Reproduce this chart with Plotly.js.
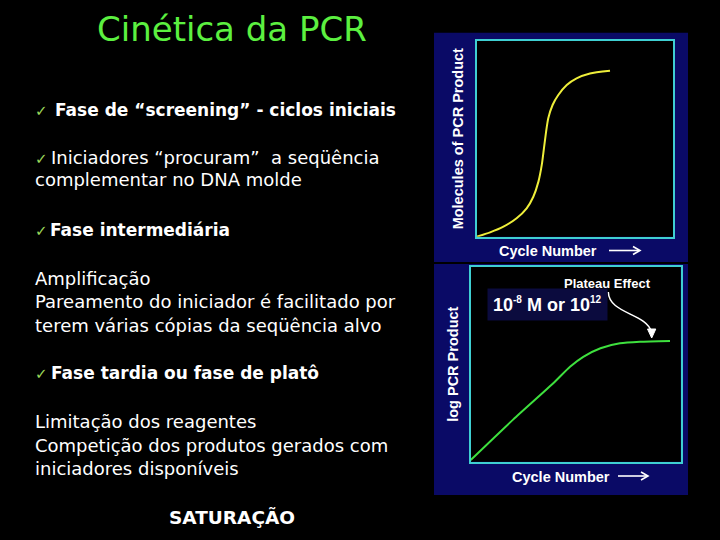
<!DOCTYPE html>
<html>
<head>
<meta charset="utf-8">
<script src="https://cdn.plot.ly/plotly-3.0.1.min.js"></script>
<style>
  html, body { margin: 0; padding: 0; background: #000; }
  #chart { width: 720px; height: 540px; }
</style>
</head>
<body>
<div id="chart"></div>
<script>
// ---------- data ----------
// Top panel: linear PCR product vs cycle number (arbitrary units 0-100)
const cyclesLinear = [0, 6.8, 13.6, 20.3, 25.4, 28.8, 31.4, 33.1, 34.2, 35.3, 36.4, 38.6, 41.5, 45.8, 50.8, 57.6, 67.8];
const productLinear = [0, 2.2, 5.1, 9.4, 14.5, 20.4, 28.1, 36.6, 45.1, 53.6, 60.4, 67.2, 72.3, 77.4, 80.8, 83.3, 84.7];

// Bottom panel: log PCR product vs cycle number (arbitrary units 0-100)
const cyclesLog = [0, 20.3, 39.3, 47.3, 53.6, 61.8, 71.1, 80.6, 94.9];
const productLog = [0.9, 21.7, 40.2, 48.7, 53.8, 58.2, 60.7, 61.5, 61.9];

// Texts
const slideTitle = 'Cinética da PCR';
const slideLines = [
  'Fase de “screening” - ciclos iniciais',
  'Iniciadores “procuram”  a seqüência',
  'complementar no DNA molde',
  'Fase intermediária',
  'Amplificação',
  'Pareamento do iniciador é facilitado por',
  'terem várias cópias da seqüência alvo',
  'Fase tardia ou fase de platô',
  'Limitação dos reagentes',
  'Competição dos produtos gerados com',
  'iniciadores disponíveis'
];
const slideFinal = 'SATURAÇÃO';
const checkMark = '✓';
const xTitle = 'Cycle Number';
const yTitleTop = 'Molecules of PCR Product';
const yTitleBottom = 'log PCR Product';
const plateauLabel = 'Plateau Effect';
const plateauValue = '10<sup><span style="font-size:10px">-8</span></sup> M or 10<sup><span style="font-size:10px">12</span></sup>';

// ---------- layout helpers ----------
const W = 720, H = 540;
const px = x => x / W;
const py = y => 1 - y / H;

const lineY = [109, 157, 179, 229, 277, 300, 324, 372, 420.5, 444, 467.5];
const lineX = [53, 49, 33, 48, 33, 33, 33, 49, 33, 33, 33];
const lineBold = [true, false, false, true, false, false, false, true, false, false, false];
const checkAt = [0, 1, 3, 7];

const bodyFont = 'DejaVu Sans, Verdana, sans-serif';
const chartFont = 'Liberation Sans, Arial, sans-serif';

const annotations = [];
annotations.push({
  text: slideTitle, xref: 'paper', yref: 'paper', x: px(232), y: py(29),
  xanchor: 'center', yanchor: 'middle', showarrow: false,
  font: { family: bodyFont, size: 34, color: '#5cf040' }
});
slideLines.forEach((t, i) => {
  annotations.push({
    text: lineBold[i] ? '<b>' + t + '</b>' : t,
    xref: 'paper', yref: 'paper', x: px(lineX[i]), y: py(lineY[i] + 1),
    xanchor: 'left', yanchor: 'middle', showarrow: false,
    font: { family: bodyFont, size: lineBold[i] ? 17 : 18, color: '#ffffff' }
  });
});
checkAt.forEach(i => {
  annotations.push({
    text: checkMark, xref: 'paper', yref: 'paper', x: px(33), y: py(lineY[i] + 2),
    xanchor: 'left', yanchor: 'middle', showarrow: false,
    font: { family: bodyFont, size: 15, color: '#9ad65a' }
  });
});
annotations.push({
  text: '<b>' + slideFinal + '</b>', xref: 'paper', yref: 'paper', x: px(232), y: py(517),
  xanchor: 'center', yanchor: 'middle', showarrow: false,
  font: { family: bodyFont, size: 18.5, color: '#ffffff' }
});
annotations.push({
  text: '<b>' + plateauLabel + '</b>', xref: 'paper', yref: 'paper', x: px(607), y: py(283),
  xanchor: 'center', yanchor: 'middle', showarrow: false,
  font: { family: chartFont, size: 13, color: '#ffffff' }
});
annotations.push({
  text: '<b>' + plateauValue + '</b>', xref: 'paper', yref: 'paper', x: px(547), y: py(304),
  xanchor: 'center', yanchor: 'middle', showarrow: false,
  bgcolor: '#0b0b3e', borderpad: 5,
  font: { family: chartFont, size: 18, color: '#ffffff' }
});
// x-axis titles ("Cycle Number" followed by an arrow shape)
[[497, 251], [510, 476.5]].forEach(p => {
  annotations.push({
    text: '<b>' + xTitle + '</b>', xref: 'paper', yref: 'paper', x: px(p[0]), y: py(p[1]),
    xanchor: 'left', yanchor: 'middle', showarrow: false,
    font: { family: chartFont, size: 14.5, color: '#ffffff' }
  });
});

const navy = '#0a0a66';
function arrowShapes(x0, x1, y) {
  return [
    { type: 'line', xref: 'paper', yref: 'paper', x0: px(x0), x1: px(x1 - 1), y0: py(y), y1: py(y),
      line: { color: '#ffffff', width: 1.6 }, layer: 'above' },
    { type: 'path', xref: 'paper', yref: 'paper',
      path: 'M ' + px(x1 - 7) + ' ' + py(y - 4) + ' L ' + px(x1) + ' ' + py(y) + ' L ' + px(x1 - 7) + ' ' + py(y + 4),
      line: { color: '#ffffff', width: 1.6 }, layer: 'above' }
  ];
}
const shapes = [
  { type: 'rect', xref: 'paper', yref: 'paper', x0: px(434), x1: px(688), y0: py(262), y1: py(32.7),
    fillcolor: navy, line: { width: 0 }, layer: 'below' },
  { type: 'rect', xref: 'paper', yref: 'paper', x0: px(434), x1: px(688), y0: py(495), y1: py(264),
    fillcolor: navy, line: { width: 0 }, layer: 'below' },
  { type: 'rect', xref: 'paper', yref: 'paper', x0: px(476.7), x1: px(673.3), y0: py(236.7), y1: py(40.7),
    fillcolor: '#000000', line: { width: 0 }, layer: 'below' },
  { type: 'rect', xref: 'paper', yref: 'paper', x0: px(470.7), x1: px(680.7), y0: py(461.7), y1: py(266.7),
    fillcolor: '#000000', line: { width: 0 }, layer: 'below' },
  // curved arrow pointing at the plateau
  { type: 'path', xref: 'paper', yref: 'paper',
    path: 'M ' + px(608.3) + ' ' + py(292) +
          ' C ' + px(609) + ' ' + py(314) + ', ' + px(646) + ' ' + py(313) + ', ' + px(651.5) + ' ' + py(332),
    line: { color: '#ffffff', width: 1.5 }, layer: 'above' },
  { type: 'path', xref: 'paper', yref: 'paper',
    path: 'M ' + px(647.5) + ' ' + py(329) + ' L ' + px(651.7) + ' ' + py(338) + ' L ' + px(655.8) + ' ' + py(329) + ' Z',
    fillcolor: '#ffffff', line: { color: '#ffffff', width: 1 }, layer: 'above' }
].concat(arrowShapes(609, 640, 250.5), arrowShapes(618, 648, 476));

const axisBase = {
  range: [0, 100], showgrid: false, zeroline: false, showticklabels: false, ticks: '',
  showline: true, mirror: true, linecolor: '#3fcfd2', linewidth: 2, fixedrange: true
};
const titleFont = { family: chartFont, size: 14.5, color: '#ffffff', weight: 'bold' };

const layout = {
  width: W, height: H,
  margin: { l: 0, r: 0, t: 0, b: 0 },
  paper_bgcolor: '#000000',
  plot_bgcolor: 'rgba(0,0,0,0)',
  showlegend: false,
  xaxis: Object.assign({}, axisBase, { domain: [px(476.7), px(673.3)], anchor: 'y' }),
  yaxis: Object.assign({}, axisBase, {
    domain: [py(236.7), py(40.7)], anchor: 'x',
    title: { text: yTitleTop, font: titleFont, standoff: 8 }
  }),
  xaxis2: Object.assign({}, axisBase, { domain: [px(470.7), px(680.7)], anchor: 'y2' }),
  yaxis2: Object.assign({}, axisBase, {
    domain: [py(461.7), py(266.7)], anchor: 'x2',
    title: { text: yTitleBottom, font: titleFont, standoff: 7 }
  }),
  annotations: annotations,
  shapes: shapes
};

const traces = [
  { x: cyclesLinear, y: productLinear, xaxis: 'x', yaxis: 'y', type: 'scatter', mode: 'lines',
    line: { color: '#eeee3a', width: 2, shape: 'spline', smoothing: 0.6 }, hoverinfo: 'skip', cliponaxis: false },
  { x: cyclesLog, y: productLog, xaxis: 'x2', yaxis: 'y2', type: 'scatter', mode: 'lines',
    line: { color: '#3ee03e', width: 2, shape: 'spline', smoothing: 0.6 }, hoverinfo: 'skip', cliponaxis: false }
];

Plotly.newPlot('chart', traces, layout, { staticPlot: true, displayModeBar: false });
</script>
</body>
</html>
